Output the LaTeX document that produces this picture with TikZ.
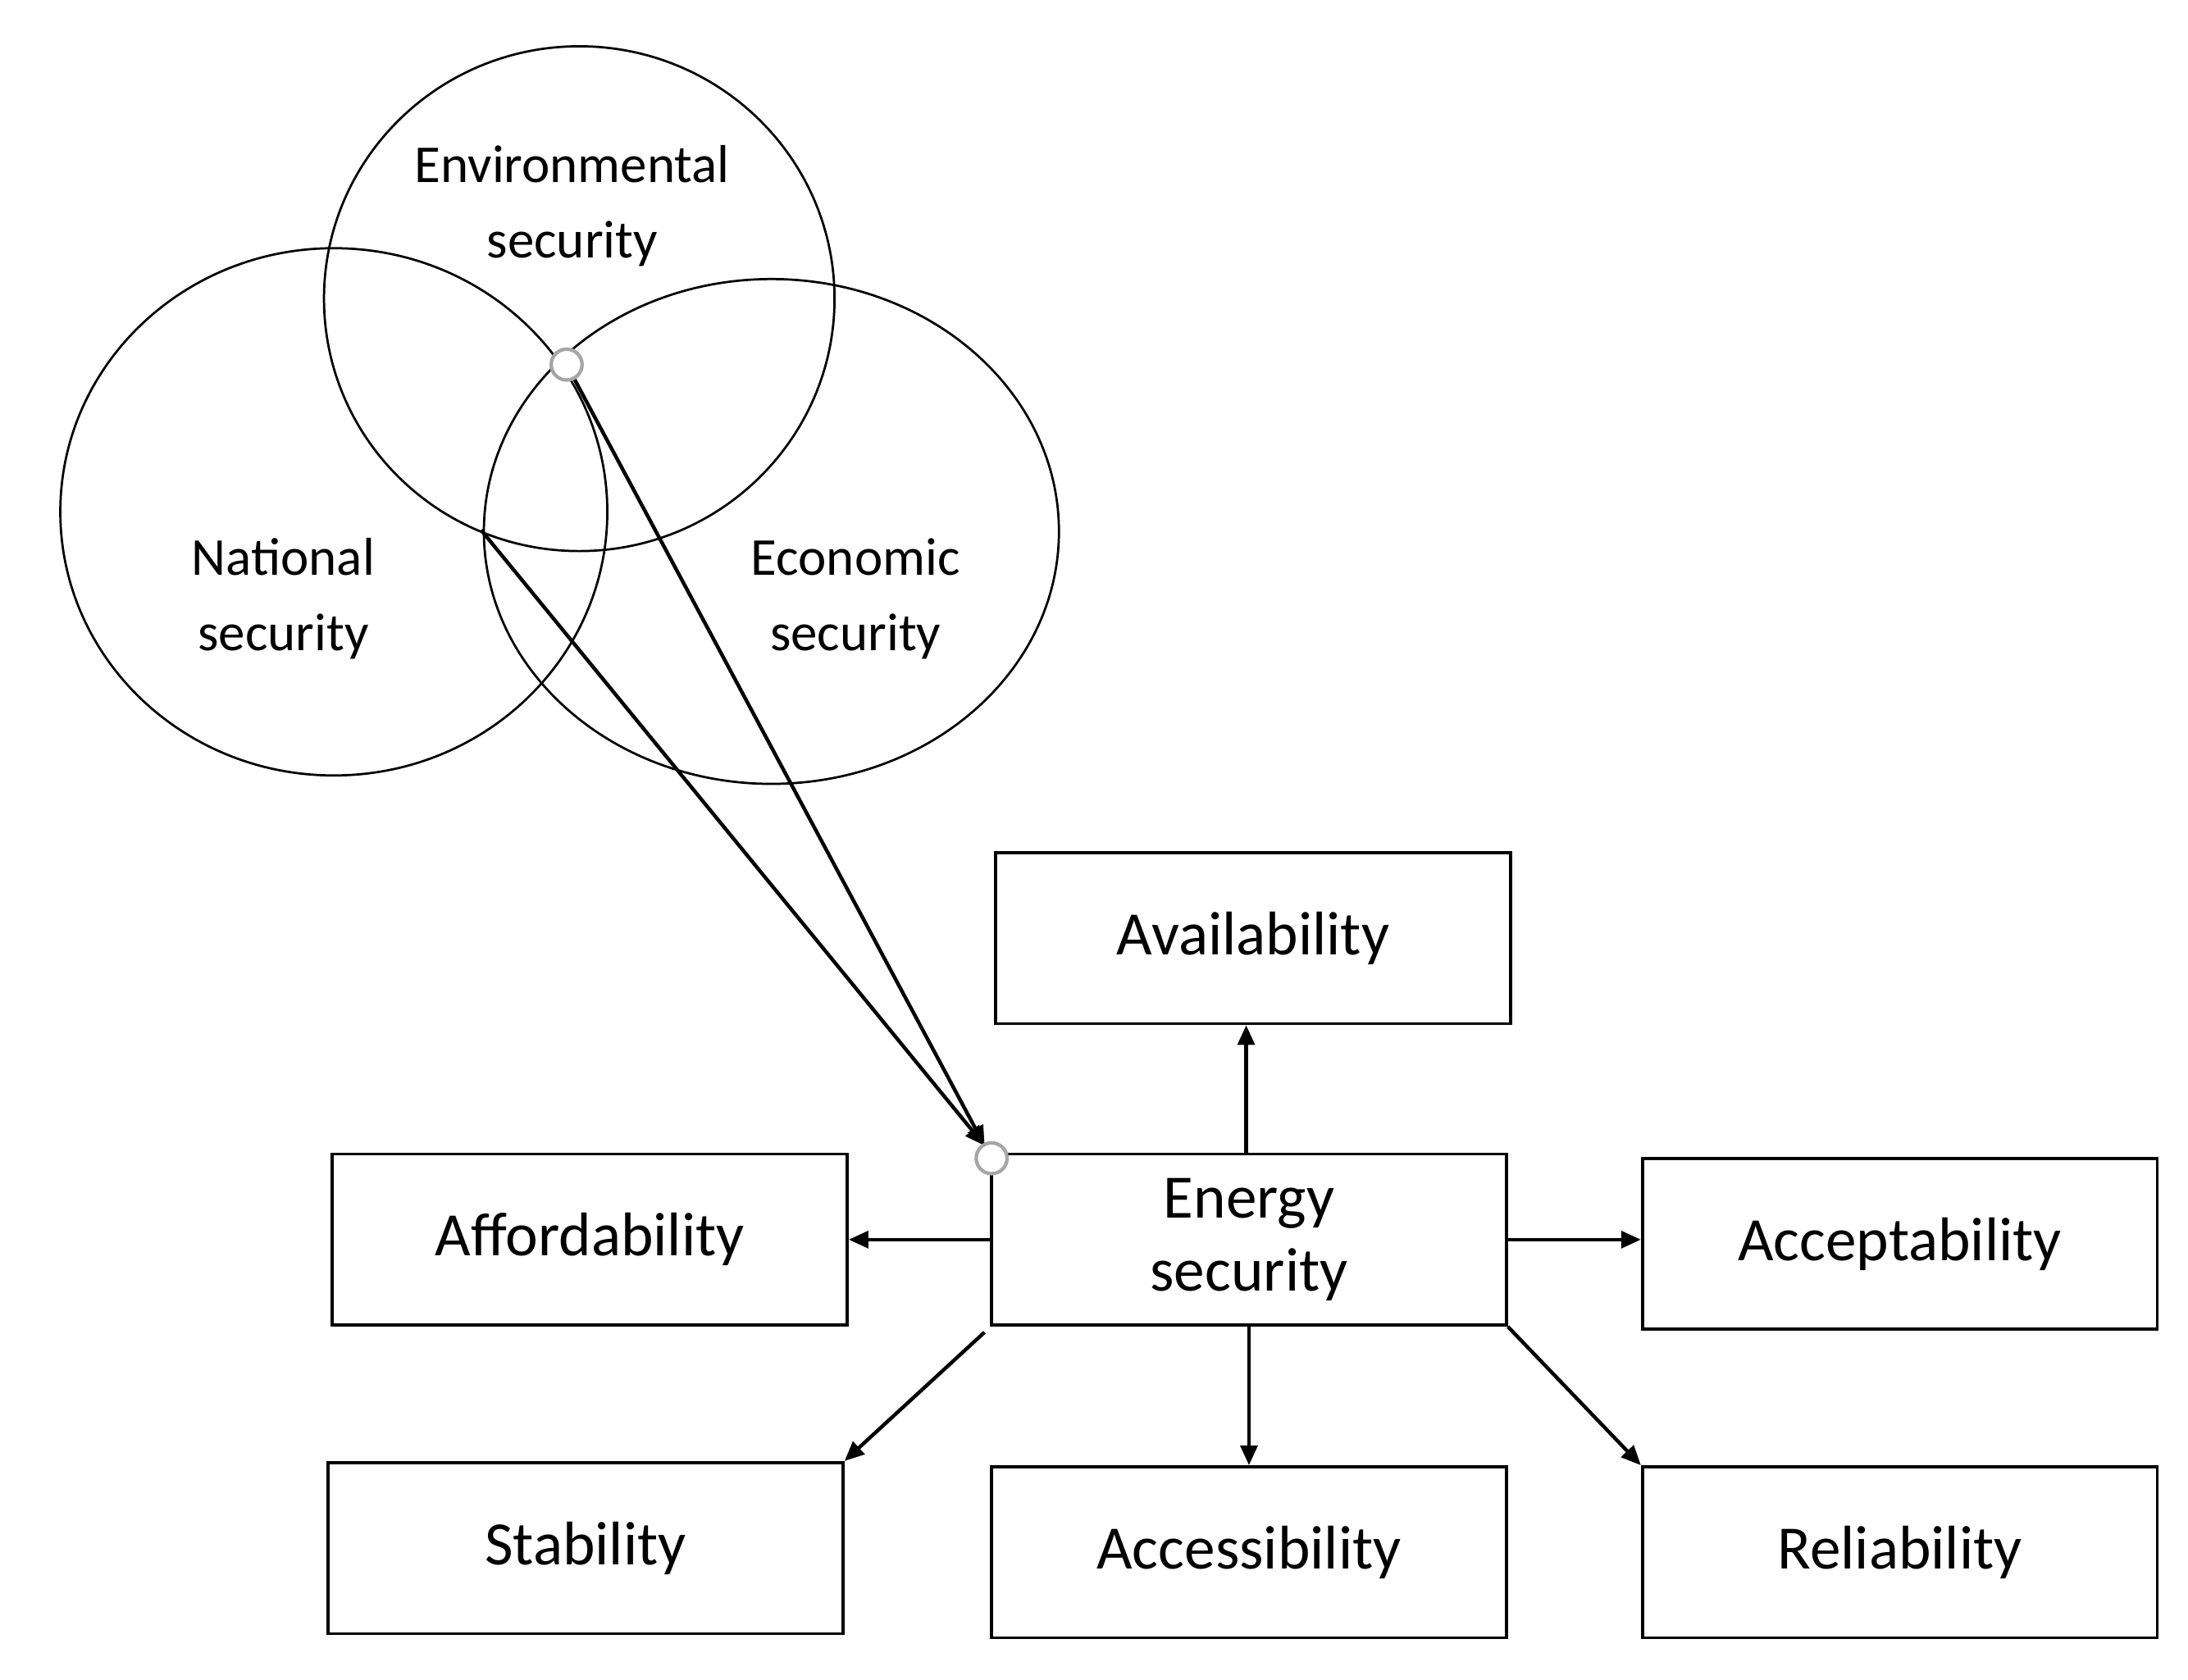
\documentclass[tikz,border=0pt]{standalone}
\usepackage{fontspec}
\setmainfont{Carlito}
\usetikzlibrary{arrows.meta}
\begin{document}
\begin{tikzpicture}[x=1pt,y=-1pt,
  box/.style={draw,line width=2.2pt,minimum width=367pt,minimum height=122pt,font=\fontsize{44}{52}\selectfont,align=center,inner sep=0pt},
  circ/.style={draw,line width=1.6pt},
  lbl/.style={font=\fontsize{38}{54}\selectfont,align=center},
  arr/.style={line width=2.6pt,-{Triangle[length=14pt,width=12pt]}},
  dot/.style={circle,draw=gray!70,line width=2.5pt,fill=white,minimum size=22pt,inner sep=0pt}]
\useasboundingbox (0,0) rectangle (1560,1198);
\draw[circ] (413,213) ellipse [x radius=182,y radius=180];
\draw[circ] (238,365) ellipse [x radius=195,y radius=188];
\draw[circ] (550,379) ellipse [x radius=205,y radius=180];
\node[lbl] (env) at (408,147) {Environmental\\security};
\node[lbl] (nat) at (202,427) {National\\security};
\node[lbl] (eco) at (610,427) {Economic\\security};
\node[box] (avail) at (893.5,669) {Availability};
\node[box] (en) at (890.5,884) {Energy\\security};
\node[box] (aff) at (420.5,884) {Affordability};
\node[box] (acc) at (1354.5,887) {Acceptability};
\node[box] (stab) at (417.5,1104) {Stability};
\node[box] (acs) at (890.5,1107) {Accessibility};
\node[box] (rel) at (1354.5,1107) {Reliability};
\coordinate (tip) at (702,817);
\coordinate (nx) at (343,378);
\node[dot] (d1) at (404,260) {};
\draw[arr] (d1) -- (tip);
\draw[arr] (nx) -- (tip);
\node[dot] (d2) at (707,826) {};
\draw[arr] (en.north -| avail.south) ++(-5,0) -- ([xshift=-5pt]avail.south);
\draw[arr] (en.west) -- (aff.east);
\draw[arr] (en.east) -- (acc.west |- en.east);
\draw[arr] (en.south) -- (acs.north);
\draw[arr] ([shift={(-4,4)}]en.south west) -- (stab.north east);
\draw[arr] (en.south east) -- (rel.north west);
\end{tikzpicture}
\end{document}
